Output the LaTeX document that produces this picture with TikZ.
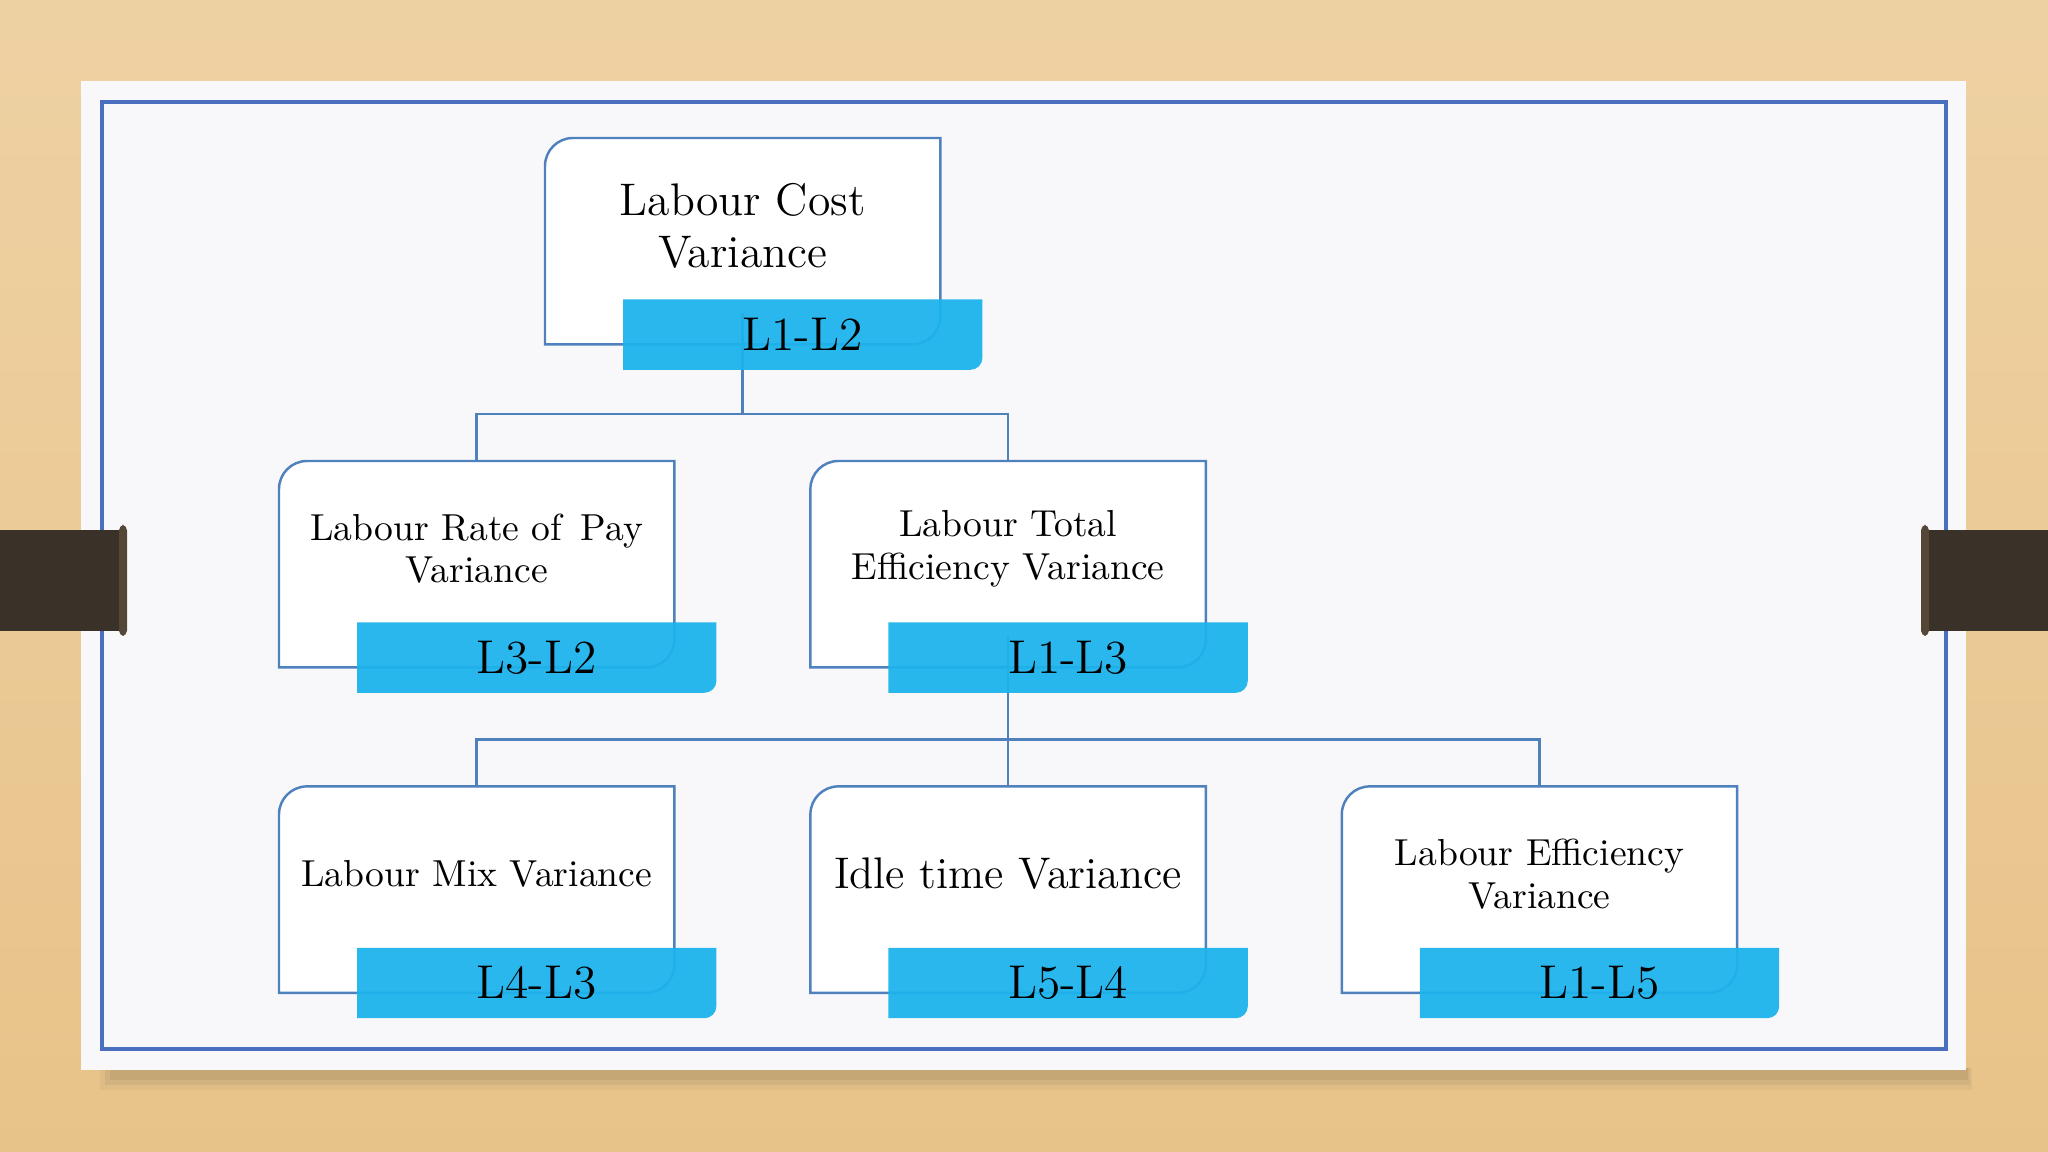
\documentclass[tikz,border=0pt]{standalone}
\usepackage{fontspec}
\usepackage{xcolor}
\usetikzlibrary{positioning}

\definecolor{woodtop}{HTML}{EED1A3}
\definecolor{woodtan}{HTML}{E8C389}
\definecolor{paperwhite}{HTML}{F8F8FA}
\definecolor{frameblue}{HTML}{4A6FBF}
\definecolor{boxblue}{HTML}{4F81BD}
\definecolor{codeblue}{HTML}{1CB3EC}
\definecolor{clipbrown}{HTML}{3A3128}

\pgfdeclarelayer{bg}
\pgfdeclarelayer{mid}
\pgfsetlayers{bg,mid,main}

\tikzset{
  varbox/.style={anchor=north west, minimum width=3.94cm, minimum height=1.74cm,
    inner sep=0pt, align=center, font=\fontsize{10.7pt}{12.2pt}\selectfont},
  bigvar/.style={font=\fontsize{13pt}{14.8pt}\selectfont},
  idlevar/.style={font=\fontsize{12.6pt}{14pt}\selectfont},
  codebox/.style={anchor=north west, minimum width=3.58cm, minimum height=0.69cm,
    inner sep=0pt, font=\fontsize{13.5pt}{15pt}\selectfont},
  boxline/.style={draw=boxblue, fill=white, line width=0.7pt},
  codefill/.style={fill=codeblue, fill opacity=0.94},
  conn/.style={draw=boxblue, line width=0.7pt},
}

% outline of a variance box: round top left and bottom right
\newcommand{\varoutline}[1]{%
  \filldraw[boxline] ([yshift=-0.31cm]#1.south west) -- ([yshift=-0.28cm]#1.north west)
    arc[start angle=180, end angle=90, radius=0.28cm] -- (#1.north east)
    -- ([yshift=-0.03cm]#1.south east) arc[start angle=0, end angle=-90, radius=0.28cm] -- cycle;}
% fill of a formula tab
\newcommand{\codetab}[1]{%
  \fill[codefill] (#1.north west) -- (#1.north east) -- ([yshift=0.12cm]#1.south east)
    arc[start angle=0, end angle=-90, radius=0.12cm] -- (#1.south west) -- cycle;}

\begin{document}
\begin{tikzpicture}
\useasboundingbox (0,0) rectangle (20.48,11.52);

% Wood, shadow and paper
\begin{pgfonlayer}{bg}
\shade[top color=woodtop, bottom color=woodtan] (0,0) rectangle (20.48,11.52);
\fill[black, opacity=0.04] (1.00,0.84) rectangle (19.72,0.62);
\fill[black, opacity=0.05] (1.05,0.84) rectangle (19.70,0.67);
\fill[black, opacity=0.06] (1.10,0.84) rectangle (19.68,0.72);
\fill[paperwhite] (0.81,10.71) rectangle (19.66,0.82);
\draw[frameblue, line width=1.2pt] (1.02,10.50) rectangle (19.46,1.03);
\end{pgfonlayer}

% Boxes
\node[varbox, bigvar] (lcv) at (5.45,10.14) {Labour Cost\\Variance};
\node[varbox] (lrpv) at (2.79,6.91) {Labour Rate of\, Pay\\Variance};
\node[varbox, right=1.36cm of lrpv] (ltev) {Labour Total\\Efficiency Variance};
\node[varbox, below=1.50cm of lrpv] (lmv) {Labour Mix Variance};
\node[varbox, idlevar, right=1.36cm of lmv] (itv) {Idle time Variance};
\node[varbox, right=1.36cm of itv] (lev) {Labour Efficiency\\Variance};

% Formula tabs
\node[codebox] (lcvcode) at ([shift={(0.78cm,0.14cm)}]lcv.south west) {L1-L2};
\node[codebox] (lrpvcode) at ([shift={(0.78cm,0.14cm)}]lrpv.south west) {L3-L2};
\node[codebox] (ltevcode) at ([shift={(0.78cm,0.14cm)}]ltev.south west) {L1-L3};
\node[codebox] (lmvcode) at ([shift={(0.78cm,0.14cm)}]lmv.south west) {L4-L3};
\node[codebox] (itvcode) at ([shift={(0.78cm,0.14cm)}]itv.south west) {L5-L4};
\node[codebox] (levcode) at ([shift={(0.78cm,0.14cm)}]lev.south west) {L1-L5};

\begin{pgfonlayer}{bg}
\foreach \b in {lcv,lrpv,ltev,lmv,itv,lev} {\varoutline{\b}}
% Connectors
\draw[conn] (lrpv.north) -- ++(0,0.47) -| (lcv.south);
\draw[conn] (ltev.north) -- ++(0,0.47) -| (lcv.south);
\draw[conn] (lmv.north) -- ++(0,0.47) -| (ltev.south);
\draw[conn] (lev.north) -- ++(0,0.47) -| (ltev.south);
\draw[conn] (itv.north) -- (ltev.south);
\end{pgfonlayer}

\begin{pgfonlayer}{mid}
\foreach \c in {lcvcode,lrpvcode,ltevcode,lmvcode,itvcode,levcode} {\codetab{\c}}
\end{pgfonlayer}

% Binder clips
\fill[clipbrown] (0,6.22) rectangle (1.22,5.21);
\fill[clipbrown!85!woodtan, rounded corners=1.5pt] (1.19,6.27) rectangle (1.27,5.16);
\fill[clipbrown] (19.27,6.22) rectangle (20.48,5.21);
\fill[clipbrown!85!woodtan, rounded corners=1.5pt] (19.21,6.27) rectangle (19.29,5.16);
\end{tikzpicture}
\end{document}
